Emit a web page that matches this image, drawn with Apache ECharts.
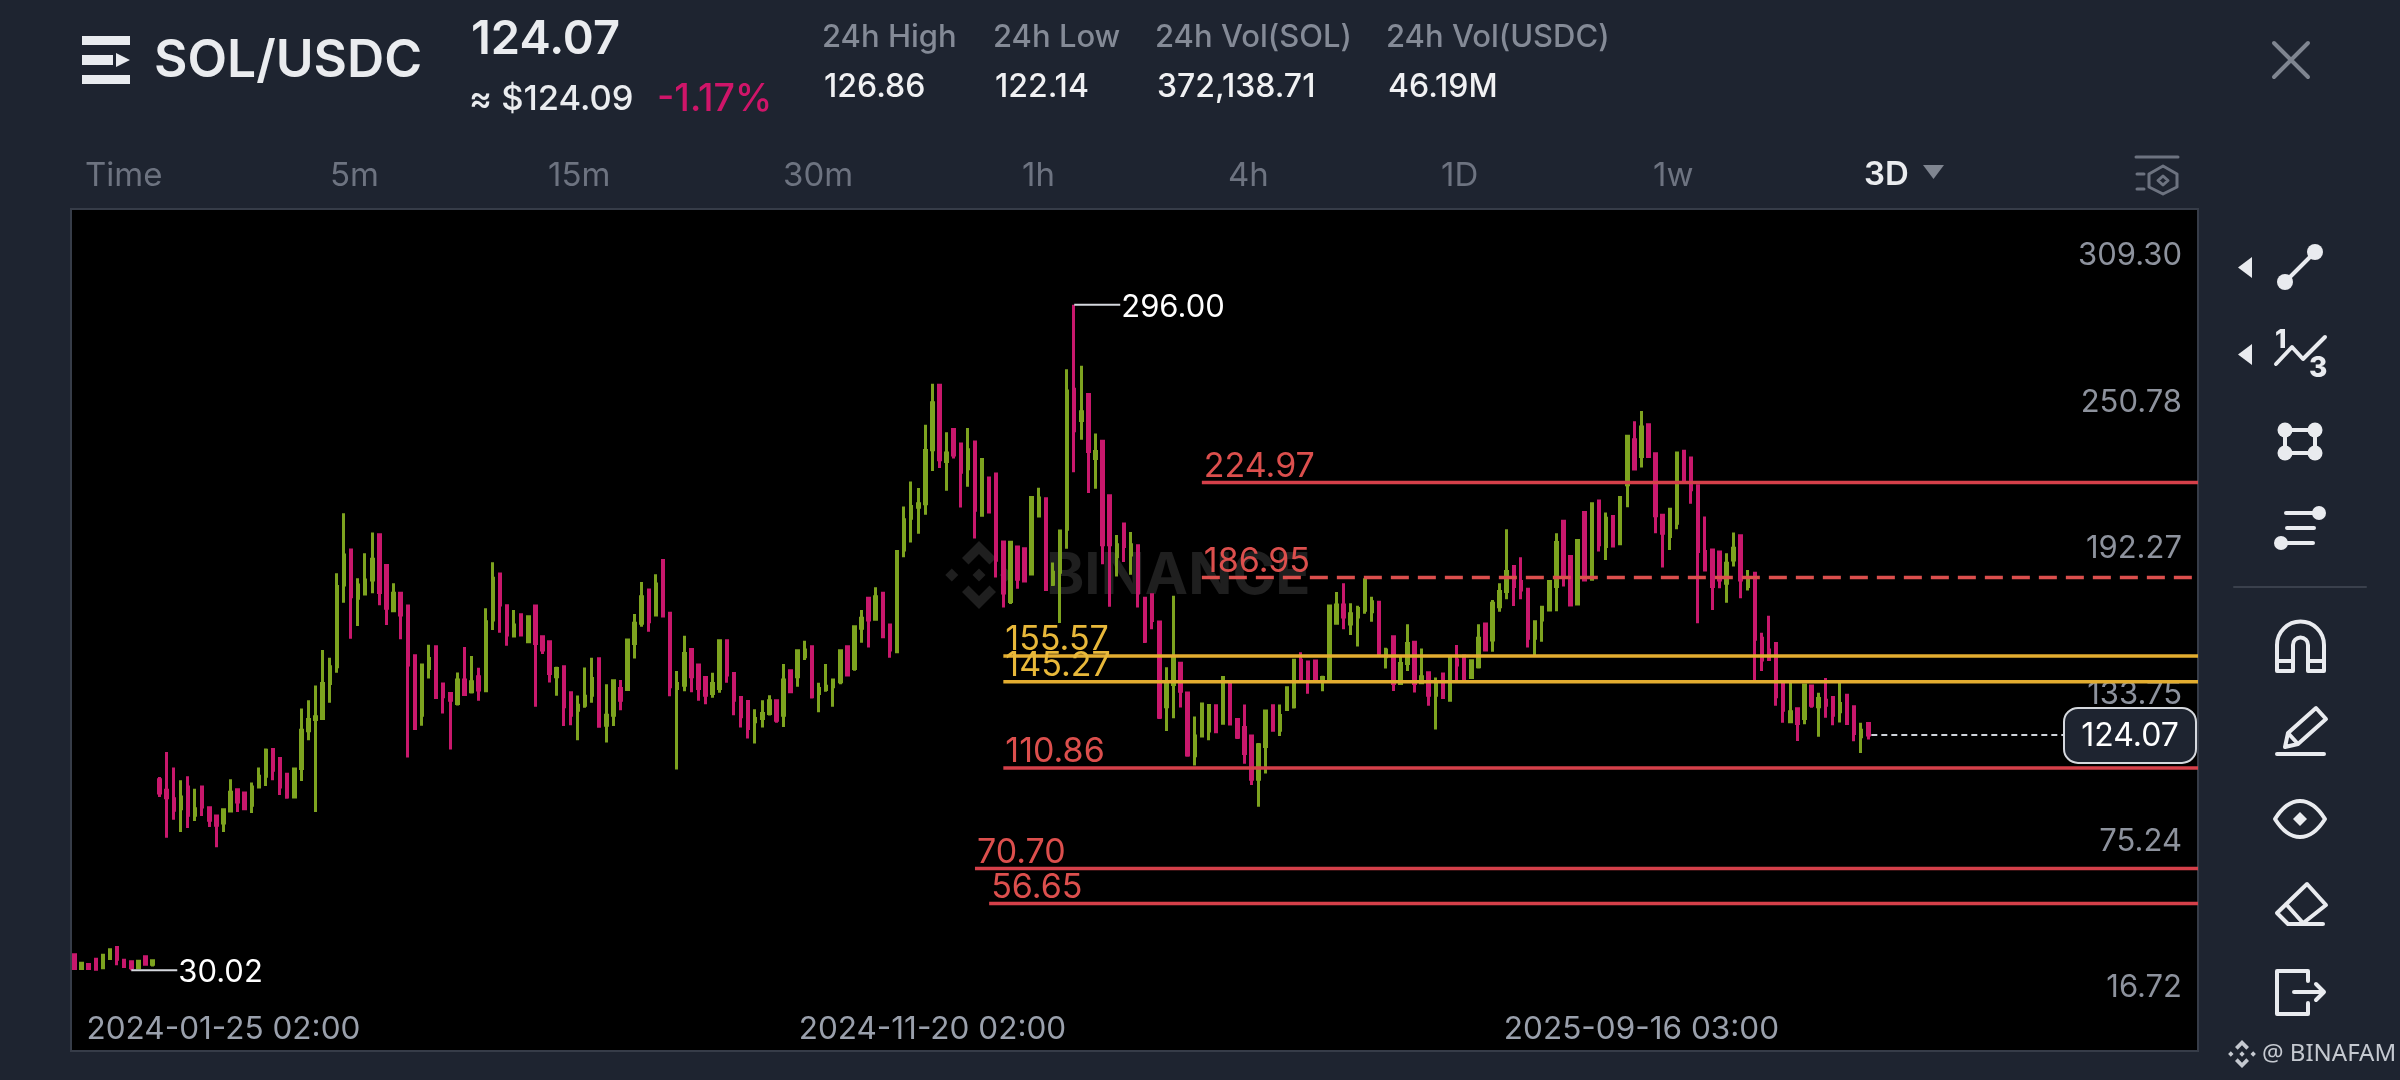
<!DOCTYPE html>
<html><head><meta charset="utf-8">
<style>html,body{margin:0;padding:0;background:#1e2430}#c{width:2400px;height:1080px}</style>
<script src="https://cdn.jsdelivr.net/npm/echarts@6/dist/echarts.min.js"></script>
</head><body><div id="c"></div>
<script>
const highs=[36.4,33.4,32.6,34.8,36.4,38.7,39.4,34.4,33.8,34.2,35.8,34.2,
107.2,117.2,111.0,105.9,107.5,102.5,103.5,95.2,91.9,94.5,106.3,102.5,101.1,105.0,111.0,118.6,118.6,114.8,108.6,110.8,134.6,137.9,143.8,158.0,154.9,188.7,212.7,198.3,186.7,196.7,205.0,204.3,192.0,184.7,181.0,175.9,156.0,152.4,160.1,159.7,144.6,140.9,149.0,159.2,155.6,150.9,174.7,193.1,189.0,176.0,174.0,172.4,171.6,
176.0,163.6,161.7,151.3,151.6,141.3,139.8,151.0,154.9,154.8,144.3,146.2,146.0,162.5,172.4,185.2,182.5,188.3,194.0,172.9,149.6,163.7,158.6,152.4,147.3,148.9,162.2,162.0,148.9,139.3,137.7,134.3,137.9,139.9,137.9,152.4,150.0,158.0,161.7,159.7,144.9,152.4,146.6,158.0,159.7,167.9,174.0,179.1,183.1,181.1,168.3,197.8,215.4,225.4,222.8,248.1,264.4,264.2,245.1,
246.6,240.8,246.8,241.8,234.6,227.0,228.8,201.5,201.5,199.4,198.7,219.4,222.9,218.9,193.0,205.9,270.2,296.00,271.6,260.6,244.6,241.8,220.0,204.0,208.8,205.2,200.0,179.0,180.5,169.5,151.1,179.7,152.9,141.1,131.4,136.7,136.2,136.0,147.4,144.7,130.4,136.2,124.0,120.8,133.9,136.0,136.2,143.1,154.3,157.1,153.5,153.9,147.7,176.0,181.2,184.7,176.7,175.7,186.6,
179.3,177.3,158.9,163.6,155.3,168.3,161.3,158.6,149.3,147.0,148.6,155.3,160.0,156.0,154.0,168.3,168.7,178.0,184.7,206.3,191.8,195.1,182.6,169.7,175.3,186.0,204.7,209.8,195.8,202.1,213.3,216.8,217.8,213.0,211.8,219.4,244.1,249.5,253.5,248.5,236.8,212.3,214.7,237.1,237.7,235.2,224.1,211.4,198.3,197.5,196.7,205.0,203.9,190.0,189.0,164.9,171.7,161.1,144.6,144.9,134.9,144.6,144.0,140.9,146.8,139.3,145.3,140.2,135.5,128.9,128.9];
const bodyTops=[36.2,32.8,32.3,34.4,36.0,38.2,39.1,34.0,33.4,33.6,35.4,33.8,
106.1,101.9,98.5,99.2,103.2,94.5,103.2,94.9,91.6,94.1,101.1,102.1,100.8,103.2,107.5,117.9,118.2,114.6,108.3,110.4,125.9,130.2,131.3,144.6,151.3,183.4,196.0,198.0,184.0,186.0,194.3,204.1,191.8,180.7,180.7,175.6,155.7,152.0,154.6,159.3,144.4,140.6,146.0,146.0,145.3,147.3,169.3,186.7,188.4,175.7,168.0,172.1,171.3,
175.6,163.3,161.3,150.6,151.3,140.9,135.9,139.5,146.6,154.5,131.9,145.7,142.6,162.0,168.7,179.3,182.0,184.4,193.8,172.7,144.6,156.6,158.2,152.0,147.0,144.6,161.7,161.7,148.6,139.0,137.4,130.6,132.6,137.7,137.7,146.0,149.7,157.7,158.0,159.3,142.6,143.5,146.0,157.7,159.3,167.3,170.7,178.7,179.3,180.7,168.0,197.4,210.1,215.4,216.5,237.8,256.8,263.8,236.8,
246.2,240.4,238.1,241.2,234.2,226.8,228.4,201.2,201.1,199.2,198.5,219.0,218.8,218.5,189.1,205.6,261.5,262.2,253.2,260.1,237.4,241.5,219.7,200.1,208.4,200.1,199.7,178.7,180.1,169.2,144.2,155.3,152.7,140.8,123.6,136.4,135.8,135.7,147.0,144.2,130.2,127.0,123.6,120.1,133.6,135.7,131.8,142.9,153.9,153.9,153.2,153.6,147.0,175.6,176.0,176.0,172.5,174.6,186.1,
177.3,177.1,158.0,163.3,152.6,160.6,161.1,147.3,148.9,144.4,148.4,154.6,154.0,155.6,153.7,162.7,168.4,176.7,181.4,189.4,191.4,185.4,182.3,169.3,175.1,185.4,201.0,209.5,195.4,201.8,213.0,216.5,217.6,210.7,211.4,219.0,243.5,242.1,247.2,248.1,236.5,211.9,214.3,236.8,237.5,234.8,223.7,197.4,198.0,197.2,192.7,198.7,203.7,186.7,188.7,162.7,158.0,160.6,144.4,133.3,134.5,144.0,143.6,138.6,137.9,139.0,136.6,139.9,135.3,125.9,128.6];
const bodyBottoms=[30.7,30.7,30.7,30.4,31.0,34.7,34.4,31.5,31.0,31.0,32.4,32.4,
100.8,98.9,93.9,94.5,91.9,91.9,95.2,89.9,87.9,88.8,93.6,97.2,94.5,95.9,103.2,107.5,109.9,103.2,99.2,99.2,110.6,125.7,130.2,130.6,144.6,151.3,184.0,179.3,178.7,180.4,186.0,181.0,174.7,173.7,172.0,152.0,126.6,131.9,150.6,139.0,139.3,137.9,136.6,140.2,141.3,142.0,141.7,170.0,176.0,164.0,163.6,164.0,161.3,
160.6,158.0,148.6,147.3,135.3,131.9,133.9,135.9,139.9,127.5,127.9,131.9,137.9,142.2,160.6,168.7,169.3,172.0,171.6,143.3,142.6,143.9,147.3,142.6,139.9,140.6,142.6,148.0,137.9,131.3,126.6,129.3,130.6,132.6,129.9,131.9,141.3,147.3,155.3,139.3,140.6,142.2,143.3,145.3,148.0,150.6,166.7,170.0,170.3,163.3,158.0,157.3,198.0,210.7,215.1,216.5,238.1,234.1,233.4,
236.0,229.1,230.5,213.9,211.9,213.2,193.9,180.8,177.4,186.3,185.6,188.4,211.6,182.2,184.3,189.1,206.3,245.7,249.8,237.4,234.6,200.1,200.1,195.3,199.4,196.0,180.8,161.5,169.8,131.1,135.3,144.2,141.5,116.0,115.7,123.6,125.6,125.3,128.7,128.4,123.1,116.6,106.3,106.3,119.4,125.9,125.9,134.2,135.3,146.0,145.6,146.0,145.6,146.3,168.7,171.2,168.4,171.2,173.9,
173.3,156.0,155.3,144.6,144.6,152.6,144.6,144.9,139.9,139.9,139.0,137.9,152.0,146.2,147.0,151.3,158.0,162.0,175.3,181.4,183.4,182.0,162.7,162.7,170.0,174.0,183.4,187.4,176.0,176.4,186.0,186.3,200.1,199.4,199.6,200.5,224.1,230.4,235.4,235.4,211.7,204.7,203.4,208.7,225.4,222.1,197.4,190.0,183.4,186.0,184.7,194.0,186.0,183.4,162.3,154.0,154.2,139.3,133.9,129.3,128.6,130.6,135.9,135.3,135.9,131.9,133.3,128.6,124.6,123.3,124.07];
const lows=[30.4,30.2,30.4,30.2,30.7,34.4,32.0,31.1,30.02,30.7,31.8,31.5,
99.2,82.9,90.1,85.2,86.8,89.6,91.6,87.2,79.2,85.2,93.3,93.2,94.1,92.8,102.9,103.6,105.9,100.0,98.5,98.7,105.6,121.9,93.2,130.5,136.9,148.9,176.9,162.5,167.6,180.1,180.7,175.9,168.0,173.5,162.3,115.0,126.6,127.7,146.6,138.6,132.6,118.2,135.8,139.9,140.6,137.7,141.3,166.0,164.9,159.7,163.3,163.6,161.3,
135.3,156.4,145.0,139.7,127.6,127.9,121.9,134.9,136.9,127.2,121.0,127.6,133.9,141.9,154.6,167.3,165.3,171.7,171.6,139.5,110.2,141.5,141.1,137.7,136.3,138.9,140.9,144.9,131.9,127.0,122.6,120.6,127.0,131.8,128.9,127.2,140.9,143.3,154.0,138.6,133.1,141.3,135.3,144.3,147.6,149.7,160.9,159.0,170.0,163.0,154.9,156.9,195.1,201.0,204.5,212.1,229.6,230.8,221.7,
234.6,215.0,223.3,202.6,211.9,212.8,187.0,175.0,176.4,182.5,185.4,188.0,211.4,181.9,183.6,168.8,198.5,229.1,242.1,220.8,222.5,192.3,175.3,187.4,193.2,188.1,175.0,160.8,166.3,130.4,125.6,130.7,135.0,115.3,111.8,123.1,121.9,124.9,128.4,128.0,122.4,112.5,104.0,95.3,108.6,125.6,123.6,133.9,134.6,145.6,140.5,145.6,141.5,145.6,168.4,166.3,164.0,159.4,172.5,
169.3,155.7,150.6,141.6,144.4,149.6,141.0,144.6,135.7,126.2,138.7,137.3,146.0,146.0,146.8,150.6,157.7,157.3,173.3,178.3,175.6,178.3,159.0,156.0,161.3,173.5,173.5,183.4,175.6,176.0,185.4,185.8,197.4,194.0,199.4,200.2,215.1,230.1,231.0,235.0,204.7,191.0,198.0,206.3,224.8,216.5,168.7,189.8,174.0,182.7,176.9,191.4,178.7,181.8,146.0,149.6,154.0,135.7,128.9,128.9,121.6,128.3,134.9,123.3,130.9,127.9,129.0,128.1,121.5,116.8,122.2];
// 1 = close above open (green), 0 = close below open (pink)
const rising=[0,1,0,0,1,1,0,0,0,1,0,1,
0,0,0,1,0,1,0,0,0,1,1,0,0,1,1,1,0,0,0,1,1,1,1,1,1,1,1,0,1,1,1,0,0,1,0,0,0,1,1,0,0,0,1,0,1,0,1,1,0,0,1,0,1,
0,0,0,1,0,0,1,1,1,0,1,1,0,1,1,1,0,1,0,0,1,1,0,0,0,1,1,0,0,0,0,1,1,1,0,1,0,1,1,0,1,1,1,1,0,1,1,0,1,0,0,1,1,1,1,1,1,0,1,
0,0,1,0,1,0,0,0,1,0,0,1,1,0,1,1,1,0,1,0,1,0,0,1,0,1,0,0,0,0,1,1,0,0,1,1,1,0,1,0,0,0,0,1,1,0,1,1,1,0,0,0,1,1,1,0,1,1,1,
1,0,1,0,1,1,0,1,0,1,0,1,0,0,1,1,0,1,1,1,0,0,0,1,1,1,1,0,0,1,0,1,0,1,0,1,1,0,1,0,0,0,1,1,0,0,0,0,0,0,1,1,0,1,0,0,0,0,0,1,0,1,0,1,0,0,1,0,0,1,0];

const yTicks=[16.72,75.24,133.75,192.27,250.78,309.30];
const xTickIndex=[21,121,221];
const xTickLabels=['2024-01-25 02:00','2024-11-20 02:00','2025-09-16 03:00'];
const levelValues=[224.97,186.95,155.57,145.27,110.86,70.70,56.65];
const levelStarts=[159,159,131,131,131,127,129];
const levelKinds=['red','redDash','gold','gold','red','red','red'];
const extremes=[[141,296.00],[8,30.02]];
const lastPrice=124.07;
const lastIndex=253;
const slotCount=300;

const categories=[];
{const t0=Date.UTC(2023,10,23,2);
 for(let i=0;i<slotCount;i++){const d=new Date(t0+i*3*864e5);
  categories.push(d.toISOString().slice(0,10)+' 02:00');}
 xTickIndex.forEach((ix,k)=>categories[ix]=xTickLabels[k]);}
const candles=highs.map((h,i)=>rising[i]
  ?[bodyBottoms[i],bodyTops[i],lows[i],h]
  :[bodyTops[i],bodyBottoms[i],lows[i],h]);

const FONT='Inter';
const BG='#1e2430';
function T(text,x,y,size,fill,weight,align){return {type:'text',z:10,silent:true,x,y,style:{text,fill,font:`${weight||400} ${size}px ${FONT}`,textAlign:align||'left',textVerticalAlign:'middle',verticalAlign:'middle'}};}
function P(d,stroke,lw,fill){return {type:'path',shape:{pathData:d},style:{fill:fill||'none',stroke:stroke||'none',lineWidth:lw||0,lineCap:'round',lineJoin:'round'}};}
function C(x,y,r,fill){return {type:'circle',z:10,silent:true,shape:{cx:x,cy:y,r},style:{fill}};}
function logo(cx,cy,r){const f=(pts)=>'M'+pts.map(p=>(cx+p[0]*r).toFixed(1)+','+(cy+p[1]*r).toFixed(1)).join('L')+'Z';
 const dia=(a,b,h)=>[[a,b-h],[a+h,b],[a,b+h],[a-h,b]];
 return f(dia(0,0,.19))+f(dia(-.8,0,.19))+f(dia(.8,0,.19))
 +f([[0,-1],[.5,-.5],[.31,-.31],[0,-.62],[-.31,-.31],[-.5,-.5]])
 +f([[0,1],[.5,.5],[.31,.31],[0,.62],[-.31,.31],[-.5,.5]]);}

const frames=['Time','5m','15m','30m','1h','4h','1D','1w'];
const frameX=[85,330,548,783,1022,1228,1441,1653];
const stats=[['24h High','126.86',822],['24h Low','122.14',993],['24h Vol(SOL)','372,138.71',1155],['24h Vol(USDC)','46.19M',1386]];
const IC='#e9ebef';
const g=[];   // text and circles
const icons=[]; // path icons, drawn by a custom series without coordinates
// watermark
const watermark=[P(logo(979,575,34),null,0,'#1f1f1f')];
g.push({type:'text',z:1,silent:true,x:1046,y:577,style:{text:'BINANCE',fill:'#1f1f1f',font:`700 58px ${FONT}`,textVerticalAlign:'middle',verticalAlign:'middle'}});
// header
icons.push(P('M82,36H130V45H82ZM82,55H113V65H82ZM82,75H130V84H82ZM116,53L130,60L116,67Z',null,0,IC));
g.push(T('SOL/USDC',154,62,51.5,'#eaecef',600));
g.push(T('124.07',471,40,47,'#eaecef',600));
g.push(T('≈ $124.09',469,100,34.5,'#eaecef',500));
g.push(T('-1.17%',657,100,37.5,'#cf1569',500));
stats.forEach(s=>{g.push(T(s[0],s[2],38,31,'#848a96',500));g.push(T(s[1],s[2]+2,87,32,'#f0f1f3',500));});
icons.push(P('M2274,43L2308,77M2308,43L2274,77','#7f8590',4));
frames.forEach((s,i)=>g.push(T(s,frameX[i],176,33,'#6d7380',400)));
g.push(T('3D',1864,175,33,'#eaecef',600));
icons.push(P('M1923,165H1944L1933.5,179Z',null,0,'#7f8590'));
icons.push(P('M2136,157H2178M2137,174H2144M2137,189H2144','#6d7380',3));
icons.push(P('M2163,166L2177,174V187L2163,194L2149,187V174ZM2163,176L2168,180.5L2163,185L2158,180.5Z','#6d7380',3));
// toolbar
icons.push(P('M2252,257L2238,267.5L2252,278Z',null,0,IC));
g.push(C(2285,282,8,IC),C(2315,252,8,IC));icons.push(P('M2285,282L2315,252',IC,4));
icons.push(P('M2252,344L2238,354.5L2252,365Z',null,0,IC));
icons.push(P('M2276,364L2292,347L2303,359L2325,337',IC,4));
g.push(T('1',2275,340,26,IC,800),T('3',2309,369,28,IC,800));
[[2285,430],[2315,430],[2285,453],[2315,453]].forEach(p=>g.push(C(p[0],p[1],7.5,IC)));
icons.push(P('M2285,430H2315V453H2285Z',IC,4));
icons.push(P('M2286,513H2318M2287,528H2314M2282,543H2313',IC,4));g.push(C(2319,513,7,IC),C(2281,543,7,IC));
icons.push(P('M2234,587H2366','#3a404c',2));
icons.push(P('M2277,671V645A23.5,23.5 0 0 1 2324,645V671H2308V645A7.5,7.5 0 0 0 2293,645V671ZM2277,661H2293M2308,661H2324',IC,4));
icons.push(P('M2285,747L2288,733L2316,708L2326,719L2298,744ZM2288,733L2298,744M2277,754H2324',IC,4));
icons.push(P('M2275,819C2290,795 2310,795 2325,819C2310,843 2290,843 2275,819Z',IC,4));
icons.push(P('M2300,812L2307,819L2300,826L2293,819Z',null,0,IC));
icons.push(P('M2277,913L2307,884L2326,905L2302,924H2288ZM2286,904L2303,923M2302,924H2323',IC,4));
icons.push(P('M2308,981V971H2277V1014H2308V1003M2294,992H2324M2316,984L2324,992L2316,1000',IC,4));
icons.push(P(logo(2242,1054,14),null,0,'#c5c9d0'));
g.push({type:'text',z:10,silent:true,x:2262,y:1054,style:{text:'@ BINAFAM',fill:'#c5c9d0',font:'400 24px "Noto Sans"',textVerticalAlign:'middle',verticalAlign:'middle'}});

const overlayData=[];
levelValues.forEach((v,i)=>overlayData.push(['level',levelStarts[i],v,levelKinds[i]]));
extremes.forEach(e=>overlayData.push(['extreme',e[0],e[1]]));
overlayData.push(['last',lastIndex,lastPrice]);

const STY={red:{line:'#d5404a',text:'#dc4f4d'},redDash:{line:'#dc4f4d',text:'#dc4f4d',dash:[18,9]},gold:{line:'#e3ad30',text:'#e8b83a'}};
function renderOverlay(params,api){
 const d=overlayData[params.dataIndex],grid=params.coordSys,right=grid.x+grid.width;
 const p=api.coord([d[1],d[2]]),x=p[0],y=p[1];
 if(d[0]==='level'){const s=STY[d[3]];
  return {type:'group',children:[
   {type:'line',shape:{x1:x,y1:y,x2:right,y2:y},style:{stroke:s.line,lineWidth:3.5,lineDash:s.dash||null}},
   {type:'text',style:{text:d[2].toFixed(2),x:x+2,y:y+1,fill:s.text,font:`400 34px ${FONT}`,textAlign:'left',textVerticalAlign:'bottom',verticalAlign:'bottom'}}]};}
 if(d[0]==='extreme'){
  return {type:'group',children:[
   {type:'line',shape:{x1:x,y1:y,x2:x+46,y2:y},style:{stroke:'#d5d8de',lineWidth:2}},
   {type:'text',style:{text:d[2].toFixed(2),x:x+47,y:y+3,fill:'#ffffff',font:`400 31px ${FONT}`,textAlign:'left',textVerticalAlign:'middle',verticalAlign:'middle'}}]};}
 const boxL=right-134;
 return {type:'group',children:[
  {type:'line',shape:{x1:x+3,y1:y,x2:boxL,y2:y},style:{stroke:'#cfd3da',lineWidth:2,lineDash:[6,4]}},
  {type:'rect',shape:{x:boxL,y:y-27,width:132,height:55,r:14},style:{fill:BG,stroke:'#d5d8de',lineWidth:2}},
  {type:'text',style:{text:d[2].toFixed(2),x:boxL+66,y:y+1,fill:'#ffffff',font:`400 32px ${FONT}`,textAlign:'center',textVerticalAlign:'middle',verticalAlign:'middle'}}]};
}
const staticPaths=(list)=>()=>({type:'group',children:list});

const chart=echarts.init(document.getElementById('c'),null,{renderer:'canvas',width:2400,height:1080});
chart.setOption({
 animation:false,backgroundColor:BG,
 grid:{left:71,right:202,top:209,bottom:29,show:true,backgroundColor:'#000000',borderColor:'#363c48',borderWidth:2},
 xAxis:{type:'category',data:categories,boundaryGap:true,axisLine:{show:false},axisTick:{show:false},splitLine:{show:false},
  axisLabel:{inside:true,interval:(i)=>xTickIndex.includes(i),color:'#9aa0ac',fontFamily:FONT,fontSize:31.5,margin:5,verticalAlign:'bottom',align:'center'}},
 yAxis:{type:'value',position:'right',min:-2.3,max:334.3,axisLine:{show:false},axisTick:{show:false},splitLine:{show:false},
  axisLabel:{inside:true,customValues:yTicks,formatter:(v)=>v.toFixed(2),color:'#8d929d',fontFamily:FONT,fontSize:31,margin:16,verticalAlign:'bottom'}},
 graphic:{elements:g},
 series:[
  {type:'custom',z:1,silent:true,coordinateSystem:'none',data:[0],renderItem:staticPaths(watermark)},
  {type:'candlestick',z:2,data:candles,barWidth:2,clip:true,
   itemStyle:{color:'#7da31f',color0:'#c8186c',borderColor:'#7da31f',borderColor0:'#c8186c',borderWidth:3}},
  {type:'custom',z:5,silent:true,clip:false,data:overlayData.map((d,i)=>[d[1],d[2]]),encode:{x:0,y:1},renderItem:renderOverlay},
  {type:'custom',z:6,silent:true,coordinateSystem:'none',data:[0],renderItem:staticPaths(icons)}
 ]
});
</script></body></html>
